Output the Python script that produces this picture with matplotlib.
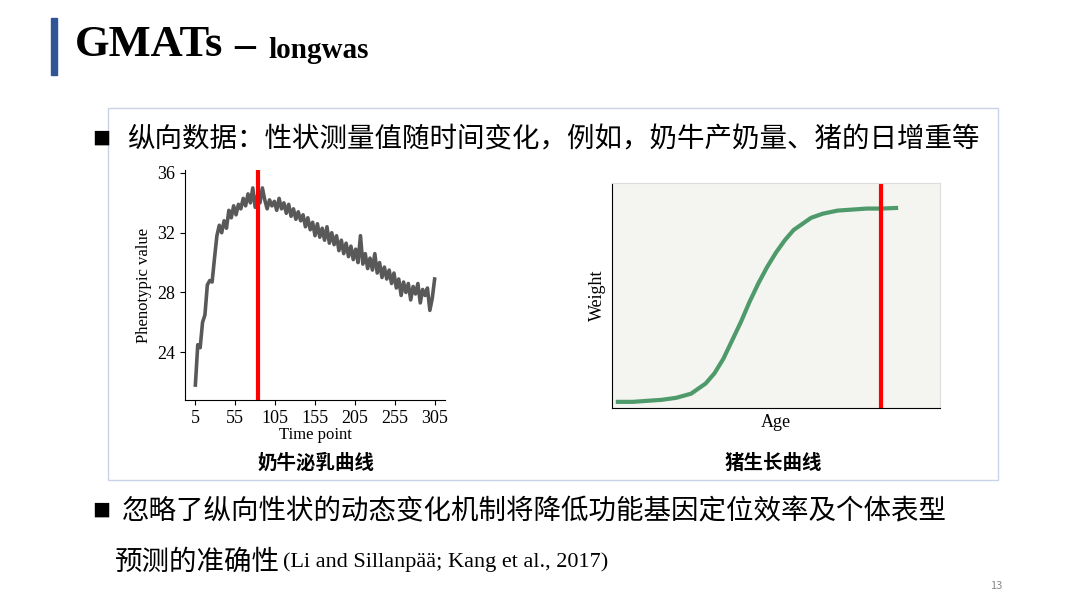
import matplotlib.pyplot as plt
from matplotlib.patches import Rectangle

plt.rcParams['font.family'] = ['Noto Sans CJK SC', 'DejaVu Sans']

# milk yield curve, read every 3 time points
milk_time = list(range(5, 306, 3))
milk_value = [21.8, 24.5, 24.3, 26.0, 26.5, 28.5, 28.8, 28.7, 30.3, 31.8,
              32.5, 32.0, 32.8, 32.3, 33.5, 33.0, 33.8, 33.2, 33.9, 33.6,
              34.3, 33.8, 34.6, 34.0, 35.0, 33.7, 34.5, 34.0, 35.0, 34.2,
              33.6, 34.2, 33.8, 34.1, 33.5, 34.3, 33.6, 34.0, 33.3, 33.9,
              33.1, 33.6, 32.9, 33.4, 32.8, 33.2, 32.4, 33.0, 32.2, 32.7,
              31.8, 32.6, 31.7, 32.3, 31.5, 32.4, 31.3, 32.0, 31.2, 31.8,
              30.8, 31.5, 30.6, 31.3, 30.4, 31.1, 30.2, 30.9, 30.0, 31.8,
              29.9, 30.6, 29.6, 30.3, 29.5, 30.6, 29.3, 30.0, 29.0, 29.7,
              28.9, 29.5, 28.6, 29.3, 28.3, 28.9, 27.8, 28.7, 28.0, 28.6,
              27.5, 28.4, 27.9, 28.6, 27.3, 28.2, 27.8, 28.3, 26.8, 27.6, 28.9]
milk_marker = 84

# pig growth curve (relative units)
age = [0.0, 0.05, 0.1, 0.15, 0.2, 0.25, 0.3, 0.33, 0.36, 0.39, 0.42, 0.45,
       0.48, 0.51, 0.54, 0.57, 0.6, 0.63, 0.66, 0.7, 0.75, 0.8, 0.85, 0.9, 0.95, 1.0]
weight = [0.01, 0.01, 0.015, 0.02, 0.03, 0.05, 0.1, 0.15, 0.22, 0.31, 0.4, 0.5,
          0.59, 0.67, 0.74, 0.8, 0.85, 0.88, 0.91, 0.93, 0.945, 0.95, 0.955, 0.955, 0.958, 0.955]
age_marker = 0.9

fig = plt.figure(figsize=(10.8, 6.13), dpi=100)
W, H = 1080, 613

def fx(px):
    return px / W

def fy(py):
    return 1 - py / H

# title
fig.patches.append(Rectangle((fx(51), fy(75)), fx(6), 57 / H, transform=fig.transFigure,
                             color='#2f5597'))
fig.text(fx(75), fy(45), 'GMATs', fontsize=32, fontweight='bold', family='Liberation Serif',
         va='center')
fig.text(fx(234), fy(47), '–', fontsize=30, fontweight='bold', family='Liberation Serif',
         va='center')
fig.text(fx(268), fy(50), 'longwas', fontsize=21, fontweight='bold', family='Liberation Serif',
         va='center')

# content box
fig.patches.append(Rectangle((fx(108), fy(480)), fx(890), 372 / H, transform=fig.transFigure,
                             fill=False, edgecolor='#c9d3e8', linewidth=1))

fig.text(fx(92), fy(140), '■', fontsize=13, va='center')
fig.text(fx(127), fy(140), '纵向数据：性状测量值随时间变化，例如，奶牛产奶量、猪的日增重等',
         fontsize=19.8, va='center')
fig.text(fx(92), fy(512), '■', fontsize=13, va='center')
fig.text(fx(122), fy(512), '忽略了纵向性状的动态变化机制将降低功能基因定位效率及个体表型',
         fontsize=19.8, va='center')
fig.text(fx(115), fy(562), '预测的准确性', fontsize=19.8, va='center')
fig.text(fx(283), fy(562), '(Li and Sillanpää; Kang et al., 2017)', fontsize=16,
         family='Liberation Serif', va='center')
fig.text(fx(990), fy(586), '13', fontsize=8, color='#888888', va='center')

# left chart
ax1 = fig.add_axes([fx(185), fy(400), fx(260), 230 / H])
ax1.plot(milk_time, milk_value, color='#595959', linewidth=2.6)
ax1.axvline(milk_marker, color='red', linewidth=3)
ax1.set_xlim(-8, 318)
ax1.set_ylim(20.8, 36.2)
ax1.set_xticks([5, 55, 105, 155, 205, 255, 305])
ax1.set_yticks([24, 28, 32, 36])
for s in ['top', 'right']:
    ax1.spines[s].set_visible(False)
for lab in ax1.get_xticklabels() + ax1.get_yticklabels():
    lab.set_family('Liberation Serif')
    lab.set_fontsize(13)
ax1.set_xlabel('Time point', family='Liberation Serif', fontsize=12, labelpad=0)
ax1.set_ylabel('Phenotypic value', family='Liberation Serif', fontsize=12)
fig.text(fx(316), fy(463), '奶牛泌乳曲线', fontsize=14, fontweight='bold', ha='center', va='center')

# right chart
ax2 = fig.add_axes([fx(612), fy(408), fx(328), 225 / H])
ax2.set_facecolor('#f4f4f1')
ax2.plot(age[:-1], weight[:-1], color='#4e9a6a', linewidth=3)
ax2.axvline(age_marker, color='red', linewidth=3)
ax2.set_xlim(-0.02, 1.1)
ax2.set_ylim(-0.02, 1.08)
ax2.set_xticks([])
ax2.set_yticks([])
for s in ['top', 'right']:
    ax2.spines[s].set_color('#dddddd')
ax2.set_xlabel('Age', family='Liberation Serif', fontsize=13)
ax2.set_ylabel('Weight', family='Liberation Serif', fontsize=13)
fig.text(fx(773), fy(463), '猪生长曲线', fontsize=14, fontweight='bold', ha='center', va='center')

fig.savefig('out.png', dpi=100)
